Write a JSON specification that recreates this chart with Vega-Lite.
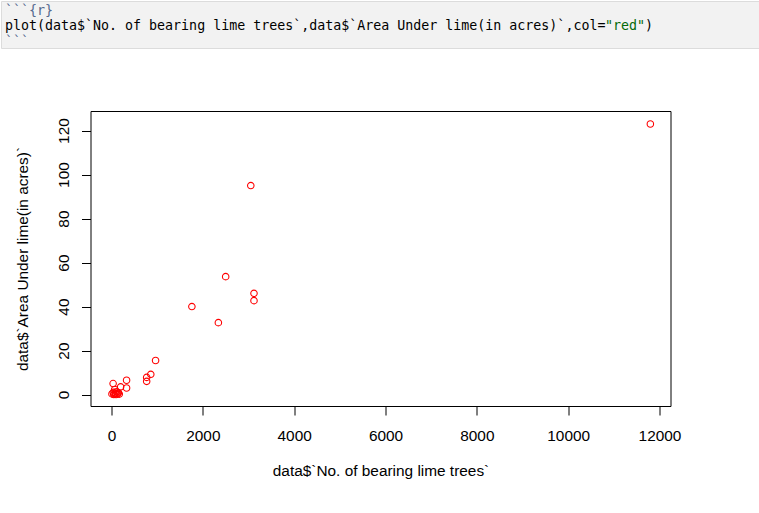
{
  "$schema": "https://vega.github.io/schema/vega-lite/v6.json",
  "padding": 0,
  "background": "white",
  "spacing": 63,
  "bounds": "flush",
  "center": true,
  "config": {"font": "Liberation Sans"},
  "vconcat": [
    {
      "width": 759,
      "height": 47,
      "view": {"fill": "#f2f2f2", "stroke": "#dcdcdc"},
      "data": {"values": [
        {"line": 0, "col": 0, "kind": "fence", "text": "```{r}"},
        {"line": 1, "col": 0, "kind": "code", "text": "plot(data$`No. of bearing lime trees`,data$`Area Under lime(in acres)`,col="},
        {"line": 1, "col": 75, "kind": "string", "text": "\"red\""},
        {"line": 1, "col": 80, "kind": "code", "text": ")"},
        {"line": 2, "col": 0, "kind": "fence", "text": "```"}
      ]},
      "mark": {"type": "text", "align": "left", "baseline": "middle", "font": "DejaVu Sans Mono", "fontSize": 13.3},
      "encoding": {
        "x": {"field": "col", "type": "quantitative", "scale": {"domain": [-0.5, 94.375], "nice": false, "zero": false}, "axis": null},
        "y": {"field": "line", "type": "quantitative", "scale": {"domain": [-0.645, 2.387], "nice": false, "zero": false, "reverse": true}, "axis": null},
        "text": {"field": "text"},
        "color": {"field": "kind", "type": "nominal", "scale": {"domain": ["fence", "code", "string"], "range": ["#55698f", "#000000", "#036a07"]}, "legend": null}
      }
    },
    {
      "width": 580,
      "height": 295,
      "view": {"stroke": "#000000", "strokeWidth": 1, "fill": null},
      "data": {"values": [
        {"trees": 11800, "area": 123},
        {"trees": 3050, "area": 95},
        {"trees": 2500, "area": 53.6},
        {"trees": 3120, "area": 46},
        {"trees": 3120, "area": 42.7},
        {"trees": 1760, "area": 40},
        {"trees": 2340, "area": 32.7},
        {"trees": 965, "area": 15.5},
        {"trees": 860, "area": 9.2},
        {"trees": 770, "area": 7.8},
        {"trees": 770, "area": 6},
        {"trees": 330, "area": 6.5},
        {"trees": 330, "area": 3},
        {"trees": 200, "area": 3.5},
        {"trees": 35, "area": 5},
        {"trees": 70, "area": 2.3},
        {"trees": 10, "area": 0.3},
        {"trees": 40, "area": 1},
        {"trees": 60, "area": 0.2},
        {"trees": 90, "area": 0.6},
        {"trees": 110, "area": 1.3},
        {"trees": 130, "area": 0.3},
        {"trees": 150, "area": 0.8},
        {"trees": 170, "area": 0.2},
        {"trees": 100, "area": 0},
        {"trees": 50, "area": 0}
      ]},
      "mark": {"type": "point", "shape": "circle", "filled": false, "color": "#ff0000", "size": 42, "strokeWidth": 1.1, "opacity": 1},
      "encoding": {
        "x": {
          "field": "trees", "type": "quantitative",
          "scale": {"domain": [-460, 12241], "nice": false, "zero": false},
          "axis": {
            "title": "data$`No. of bearing lime trees`",
            "values": [0, 2000, 4000, 6000, 8000, 10000, 12000],
            "format": "d", "grid": false, "domain": false,
            "tickSize": 9, "tickColor": "#000000",
            "labelFont": "Liberation Sans", "labelFontSize": 15.4, "labelColor": "#000000", "labelPadding": 13.3,
            "labelFlush": false, "labelOverlap": false,
            "titleFont": "Liberation Sans", "titleFontSize": 15.4, "titleFontWeight": "normal", "titleColor": "#000000",
            "titlePadding": 22.7, "minExtent": 35, "maxExtent": 35
          }
        },
        "y": {
          "field": "area", "type": "quantitative",
          "scale": {"domain": [-5.2, 128.9], "nice": false, "zero": false},
          "axis": {
            "title": "data$`Area Under lime(in acres)`",
            "values": [0, 20, 40, 60, 80, 100, 120],
            "format": "d", "grid": false, "domain": false,
            "tickSize": 9, "tickColor": "#000000",
            "labelFont": "Liberation Sans", "labelFontSize": 15.4, "labelColor": "#000000", "labelPadding": 13,
            "labelAngle": -90, "labelAlign": "center", "labelBaseline": "alphabetic",
            "labelFlush": false, "labelOverlap": false,
            "titleFont": "Liberation Sans", "titleFontSize": 15.4, "titleFontWeight": "normal", "titleColor": "#000000",
            "titlePadding": 25.4, "minExtent": 35, "maxExtent": 35
          }
        }
      }
    }
  ]
}
